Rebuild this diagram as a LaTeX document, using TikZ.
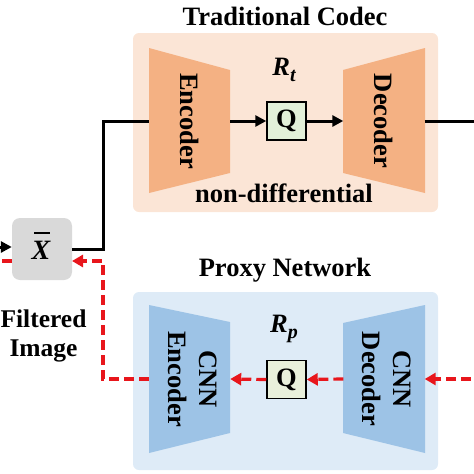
\documentclass[tikz,border=0pt]{standalone}
\usepackage{fontspec}
\usepackage{graphicx}
\setmainfont{Liberation Serif}
\usetikzlibrary{arrows.meta,calc}
\definecolor{peachbg}{RGB}{251,229,214}
\definecolor{orangeblk}{RGB}{244,177,131}
\definecolor{bluebg}{RGB}{222,235,247}
\definecolor{blueblk}{RGB}{157,195,230}
\definecolor{qgreen}{RGB}{226,240,217}
\definecolor{qgreen2}{RGB}{233,240,219}
\definecolor{xgray}{RGB}{217,217,217}
\definecolor{dred}{RGB}{232,22,28}
\begin{document}
\begin{tikzpicture}[x=1pt,y=1pt,
  every node/.style={font=\fontsize{26.5}{29}\selectfont\bfseries, inner sep=0pt},
  blkbox/.style={minimum width=81pt, minimum height=145pt},
  qbox/.style={draw=black, line width=1.5pt, minimum width=39pt, minimum height=38pt},
  flow/.style={line width=3pt, -{Triangle[length=11pt,width=11pt]}},
  redflow/.style={draw=dred, line width=3.2pt, dash pattern=on 10pt off 5pt, -{Triangle[length=11pt,width=12pt]}},
  redline/.style={draw=dred, line width=3.2pt, dash pattern=on 10pt off 5pt}]
\useasboundingbox (0,0) rectangle (474,-474);
% top box
\fill[peachbg, rounded corners=6pt] (133,-33) rectangle (438,-212);
\node[anchor=base] (ttl1) at (285,-25) {Traditional Codec};
\fill[orangeblk] (149,-48) -- (230,-70) -- (230,-173) -- (149,-193) -- cycle;
\fill[orangeblk] (343,-70) -- (425,-48) -- (425,-193) -- (343,-173) -- cycle;
\node[blkbox] (enc) at (189.5,-121) {\rotatebox{-90}{Encoder}};
\node[blkbox] (dec) at (384,-121) {\rotatebox{-90}{Decoder}};
\node[qbox, fill=qgreen] (q1) at (286.5,-121) {Q};
\node[anchor=base] (rt) at (284,-75) {\itshape R\raisebox{-6pt}{\fontsize{20}{20}\selectfont t}};
\node[anchor=base] (nd) at (284,-202) {non-differential};
% bottom box
\fill[bluebg, rounded corners=6pt] (133,-292) rectangle (438,-470);
\node[anchor=base] (ttl2) at (285,-276) {Proxy Network};
\fill[blueblk] (149,-305) -- (230,-322) -- (230,-433) -- (149,-453) -- cycle;
\fill[blueblk] (343,-323) -- (425,-305) -- (425,-453) -- (343,-433) -- cycle;
\node[blkbox] (cenc) at (189.5,-379) {\rotatebox{-90}{\begin{tabular}{@{}c@{}}CNN\\[2pt]Encoder\end{tabular}}};
\node[blkbox] (cdec) at (384,-379) {\rotatebox{-90}{\begin{tabular}{@{}c@{}}CNN\\[2pt]Decoder\end{tabular}}};
\node[qbox, fill=qgreen2] (q2) at (286.5,-379.5) {Q};
\node[anchor=base] (rp) at (284,-332) {\itshape R\raisebox{-6pt}{\fontsize{20}{20}\selectfont p}};
% filtered image
\node[fill=xgray, rounded corners=8pt, minimum width=60pt, minimum height=62pt] (xbar) at (42,-249) {};
\node[font=\fontsize{28}{29}\selectfont\bfseries\itshape] (xt) at (41,-250) {X};
\draw[line width=2pt] (34,-232.5) -- (50,-232.5);
\node[align=center, anchor=base, font=\fontsize{25.5}{29}\selectfont\bfseries] (fi) at (43.5,-356) {Filtered\\Image};
% coordinates
\coordinate (inL) at (-6,-247);
\coordinate (outR) at (485,-121);
\coordinate (inR) at (486,-379);
\coordinate (redL) at (0,-261);
\coordinate (rin) at (72,-261);
\coordinate (turn) at (103,-261);
% black flow
\draw[flow] (inL) -- (xbar.west |- inL);
\draw[flow, -] (xbar.east) -- ++(31,0) |- (enc.west);
\draw[flow] (enc.east) -- (q1.west);
\draw[flow] (q1.east) -- (dec.west);
\draw[flow] (dec.east) -- (outR);
% red flow
\draw[redflow] (inR) -- (cdec.east);
\draw[redflow] (cdec.west) -- (q2.east);
\draw[redflow] (q2.west) -- (cenc.east);
\draw[redflow] (cenc.west) -| (turn) -- (rin);
\draw[redline] (xbar.west |- redL) -- (redL);
\end{tikzpicture}
\end{document}
